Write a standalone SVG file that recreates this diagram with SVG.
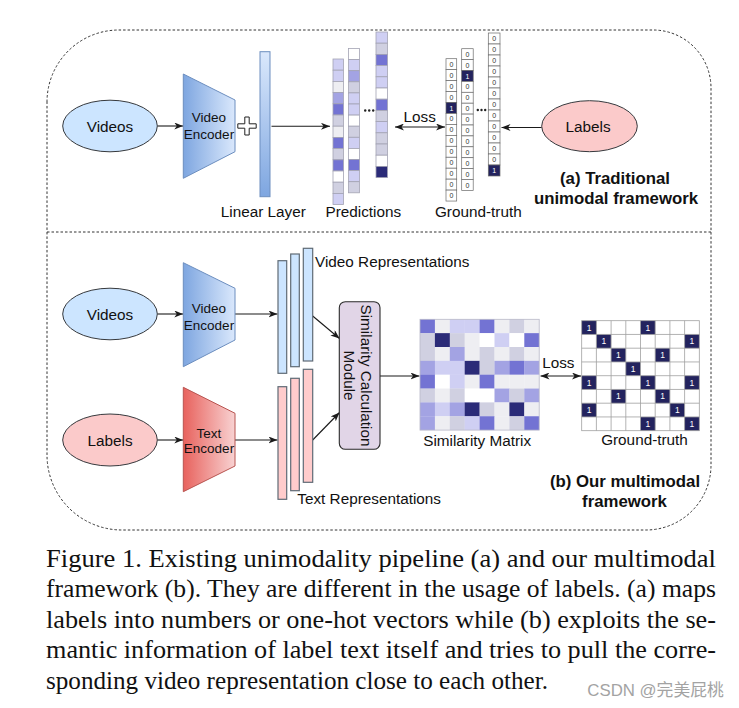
<svg xmlns="http://www.w3.org/2000/svg" width="739" height="708" viewBox="0 0 739 708">
<defs>
<linearGradient id="gBlueH" x1="0" y1="0" x2="1" y2="0"><stop offset="0" stop-color="#7ea6e0"/><stop offset="1" stop-color="#dae8fc"/></linearGradient>
<linearGradient id="gBlueV" x1="0" y1="0" x2="0" y2="1"><stop offset="0" stop-color="#dae8fc"/><stop offset="1" stop-color="#7ea6e0"/></linearGradient>
<linearGradient id="gRedH" x1="0" y1="0" x2="1" y2="0"><stop offset="0" stop-color="#e8625d"/><stop offset="1" stop-color="#f8d2d2"/></linearGradient>
<marker id="arr" markerUnits="userSpaceOnUse" markerWidth="9" markerHeight="7" refX="9" refY="3.5" orient="auto-start-reverse"><path d="M0,0 L9,3.5 L0,7 L2.5,3.5 z" fill="#1a1a1a"/></marker>
</defs>
<style>
text{font-family:"Liberation Sans",Arial,sans-serif;fill:#111}
.lbl{font-size:15.3px}
.enc{font-size:13.5px;text-anchor:middle}
.mid{text-anchor:middle}
.bold{font-weight:bold;font-size:16.8px;text-anchor:middle}
.frame{fill:none;stroke:#333;stroke-width:1;stroke-dasharray:2.5,2}
.conn line{stroke:#1a1a1a;stroke-width:1.1;marker-end:url(#arr)}
.conn line.dbl{marker-start:url(#arr)}
.vb{fill:#cce5ff;stroke:#5f6a75;stroke-width:1.2}
.tb{fill:#ffcccc;stroke:#5f6a75;stroke-width:1.2}
.pc rect{stroke:#a3a3b3;stroke-width:0.8}
.gt rect{fill:#fff;stroke:#6a6a6a;stroke-width:0.7}
.gt rect.one{fill:#23235e}
.gt text{font-size:7px;text-anchor:middle;fill:#333}
.gt text.w{fill:#fff}
.L{fill:#cfcff3}.G{fill:#d0d0e1}.W{fill:#ffffff}.W2{fill:#eeeef2}.M{fill:#a3a3e3}.D{fill:#7373d3}.N{fill:#2b2b78}
.cap{font-family:"Liberation Serif","Times New Roman",serif;font-size:24.5px;fill:#111}
.one2{fill:#23235e}
.g1{font-size:8.5px;fill:#fff;text-anchor:middle}
</style>

<g id="frame">
<path class="frame" d="M47,102 A72,72 0 0 1 119,30 L653,30 A58,58 0 0 1 711,88 L711,465 A65,65 0 0 1 646,530 L122,530 A75,75 0 0 1 47,455 Z"/>
<line class="frame" x1="47" y1="232" x2="711" y2="232"/>
</g>

<g id="connectors" class="conn">
<line x1="157.3" y1="126" x2="183.3" y2="126"/>
<line x1="271.5" y1="126.3" x2="330" y2="126.3"/>
<line class="dbl" x1="395" y1="127" x2="445" y2="127"/>
<line x1="541.7" y1="127.5" x2="501.5" y2="127.5"/>
<line x1="157.3" y1="314" x2="183.3" y2="314"/>
<line x1="235" y1="314" x2="277.5" y2="314"/>
<line x1="157.3" y1="440" x2="183.3" y2="440"/>
<line x1="235" y1="440" x2="277.5" y2="440"/>
<line x1="312.7" y1="316" x2="339.5" y2="338.5"/>
<line x1="312.7" y1="440" x2="339.5" y2="412.5"/>
<line x1="380" y1="376" x2="419.5" y2="376"/>
<line class="dbl" x1="540.5" y1="376" x2="581" y2="376"/>
</g>

<!-- (a) Traditional -->
<g id="videos-a">
<ellipse cx="110" cy="126" rx="47.3" ry="25.8" fill="#cce5ff" stroke="#36393d" stroke-width="1"/>
<text class="lbl mid" x="110" y="131.5">Videos</text>
</g>
<g id="video-encoder-a">
<path d="M183.3,74 L235,100 L235,151.7 L183.3,178.3 Z" fill="url(#gBlueH)" stroke="#6c8ebf" stroke-width="1"/>
<text class="enc" x="209" y="122">Video</text>
<text class="enc" x="209" y="139">Encoder</text>
</g>
<g id="plus">
<path d="M244.8,117 h4.4 v6.8 h7 v4.4 h-7 v6.8 h-4.4 v-6.8 h-7 v-4.4 h7 z" fill="#fff" stroke="#222" stroke-width="1"/>
</g>
<g id="linear-layer">
<rect x="260" y="51.7" width="10" height="145" fill="url(#gBlueV)" stroke="#6c8ebf" stroke-width="1"/>
<text class="lbl mid" x="263.3" y="217">Linear Layer</text>
</g>
<g id="predictions" class="pc">
<rect class="L" x="333" y="59" width="10.5" height="11.2"/>
<rect class="L" x="333" y="70.2" width="10.5" height="11.2"/>
<rect class="W2" x="333" y="81.4" width="10.5" height="11.2"/>
<rect class="M" x="333" y="92.6" width="10.5" height="11.2"/>
<rect class="D" x="333" y="103.8" width="10.5" height="11.2"/>
<rect class="G" x="333" y="115" width="10.5" height="11.2"/>
<rect class="W2" x="333" y="126.2" width="10.5" height="11.2"/>
<rect class="D" x="333" y="137.4" width="10.5" height="11.2"/>
<rect class="G" x="333" y="148.6" width="10.5" height="11.2"/>
<rect class="D" x="333" y="159.8" width="10.5" height="11.2"/>
<rect class="W" x="333" y="171" width="10.5" height="11.2"/>
<rect class="G" x="333" y="182.2" width="10.5" height="11.2"/>
<rect class="L" x="333" y="193.4" width="10.5" height="11.2"/>

<rect class="W" x="348.5" y="48.5" width="11" height="11.1"/>
<rect class="L" x="348.5" y="59.6" width="11" height="11.1"/>
<rect class="M" x="348.5" y="70.7" width="11" height="11.1"/>
<rect class="G" x="348.5" y="81.8" width="11" height="11.1"/>
<rect class="L" x="348.5" y="92.9" width="11" height="11.1"/>
<rect class="L" x="348.5" y="104" width="11" height="11.1"/>
<rect class="W" x="348.5" y="115.1" width="11" height="11.1"/>
<rect class="G" x="348.5" y="126.2" width="11" height="11.1"/>
<rect class="L" x="348.5" y="137.3" width="11" height="11.1"/>
<rect class="W" x="348.5" y="148.4" width="11" height="11.1"/>
<rect class="D" x="348.5" y="159.5" width="11" height="11.1"/>
<rect class="L" x="348.5" y="170.6" width="11" height="11.1"/>
<rect class="G" x="348.5" y="181.7" width="11" height="11.1"/>

<rect class="L" x="376" y="32" width="11.5" height="11.2"/>
<rect class="G" x="376" y="43.2" width="11.5" height="11.2"/>
<rect class="D" x="376" y="54.4" width="11.5" height="11.2"/>
<rect class="L" x="376" y="65.6" width="11.5" height="11.2"/>
<rect class="L" x="376" y="76.8" width="11.5" height="11.2"/>
<rect class="W" x="376" y="88" width="11.5" height="11.2"/>
<rect class="D" x="376" y="99.2" width="11.5" height="11.2"/>
<rect class="G" x="376" y="110.4" width="11.5" height="11.2"/>
<rect class="L" x="376" y="121.6" width="11.5" height="11.2"/>
<rect class="G" x="376" y="132.8" width="11.5" height="11.2"/>
<rect class="G" x="376" y="144" width="11.5" height="11.2"/>
<rect class="W" x="376" y="155.2" width="11.5" height="11.2"/>
<rect class="N" x="376" y="166.4" width="11.5" height="11.2"/>
<circle cx="365.2" cy="110.5" r="1.2" fill="#222"/><circle cx="369.2" cy="110.5" r="1.2" fill="#222"/><circle cx="373.2" cy="110.5" r="1.2" fill="#222"/>
<text class="lbl mid" x="363.3" y="216.5">Predictions</text>
</g>
<text class="lbl mid" x="419.7" y="121.5">Loss</text>
<g id="ground-truth-a">
<g class="gt">
<rect x="446" y="58.7" width="10.7" height="10.95"/><text x="451.35" y="66.7">0</text>
<rect x="446" y="69.65" width="10.7" height="10.95"/><text x="451.35" y="77.65">0</text>
<rect x="446" y="80.6" width="10.7" height="10.95"/><text x="451.35" y="88.6">0</text>
<rect x="446" y="91.55" width="10.7" height="10.95"/><text x="451.35" y="99.55">0</text>
<rect class="one" x="446" y="102.5" width="10.7" height="10.95"/><text class="w" x="451.35" y="110.5">1</text>
<rect x="446" y="113.45" width="10.7" height="10.95"/><text x="451.35" y="121.45">0</text>
<rect x="446" y="124.4" width="10.7" height="10.95"/><text x="451.35" y="132.4">0</text>
<rect x="446" y="135.35" width="10.7" height="10.95"/><text x="451.35" y="143.35">0</text>
<rect x="446" y="146.3" width="10.7" height="10.95"/><text x="451.35" y="154.3">0</text>
<rect x="446" y="157.25" width="10.7" height="10.95"/><text x="451.35" y="165.25">0</text>
<rect x="446" y="168.2" width="10.7" height="10.95"/><text x="451.35" y="176.2">0</text>
<rect x="446" y="179.15" width="10.7" height="10.95"/><text x="451.35" y="187.15">0</text>
<rect x="446" y="190.1" width="10.7" height="10.95"/><text x="451.35" y="198.1">0</text>

<rect x="461.7" y="48.7" width="11.5" height="10.9"/><text x="467.45" y="56.7">0</text>
<rect x="461.7" y="59.6" width="11.5" height="10.9"/><text x="467.45" y="67.6">0</text>
<rect class="one" x="461.7" y="70.5" width="11.5" height="10.9"/><text class="w" x="467.45" y="78.5">1</text>
<rect x="461.7" y="81.4" width="11.5" height="10.9"/><text x="467.45" y="89.4">0</text>
<rect x="461.7" y="92.3" width="11.5" height="10.9"/><text x="467.45" y="100.3">0</text>
<rect x="461.7" y="103.2" width="11.5" height="10.9"/><text x="467.45" y="111.2">0</text>
<rect x="461.7" y="114.1" width="11.5" height="10.9"/><text x="467.45" y="122.1">0</text>
<rect x="461.7" y="125" width="11.5" height="10.9"/><text x="467.45" y="133">0</text>
<rect x="461.7" y="135.9" width="11.5" height="10.9"/><text x="467.45" y="143.9">0</text>
<rect x="461.7" y="146.8" width="11.5" height="10.9"/><text x="467.45" y="154.8">0</text>
<rect x="461.7" y="157.7" width="11.5" height="10.9"/><text x="467.45" y="165.7">0</text>
<rect x="461.7" y="168.6" width="11.5" height="10.9"/><text x="467.45" y="176.6">0</text>
<rect x="461.7" y="179.5" width="11.5" height="10.9"/><text x="467.45" y="187.5">0</text>

<rect x="488.3" y="33" width="11.7" height="11"/><text x="494.15" y="41">0</text>
<rect x="488.3" y="44" width="11.7" height="11"/><text x="494.15" y="52">0</text>
<rect x="488.3" y="55" width="11.7" height="11"/><text x="494.15" y="63">0</text>
<rect x="488.3" y="66" width="11.7" height="11"/><text x="494.15" y="74">0</text>
<rect x="488.3" y="77" width="11.7" height="11"/><text x="494.15" y="85">0</text>
<rect x="488.3" y="88" width="11.7" height="11"/><text x="494.15" y="96">0</text>
<rect x="488.3" y="99" width="11.7" height="11"/><text x="494.15" y="107">0</text>
<rect x="488.3" y="110" width="11.7" height="11"/><text x="494.15" y="118">0</text>
<rect x="488.3" y="121" width="11.7" height="11"/><text x="494.15" y="129">0</text>
<rect x="488.3" y="132" width="11.7" height="11"/><text x="494.15" y="140">0</text>
<rect x="488.3" y="143" width="11.7" height="11"/><text x="494.15" y="151">0</text>
<rect x="488.3" y="154" width="11.7" height="11"/><text x="494.15" y="162">0</text>
<rect class="one" x="488.3" y="165" width="11.7" height="11"/><text class="w" x="494.15" y="173">1</text>
</g>
<circle cx="477.8" cy="110" r="1.2" fill="#222"/><circle cx="481.5" cy="110" r="1.2" fill="#222"/><circle cx="485.2" cy="110" r="1.2" fill="#222"/>
<text class="lbl mid" x="478.3" y="216.7">Ground-truth</text>
</g>
<g id="labels-a">
<ellipse cx="589.5" cy="126.2" rx="47.8" ry="25.5" fill="#fbcaca" stroke="#36393d" stroke-width="1"/>
<text class="lbl mid" x="588" y="131.7">Labels</text>
</g>
<g id="title-a">
<text class="bold" x="615" y="184">(a) Traditional</text>
<text class="bold" x="616" y="204">unimodal framework</text>
</g>

<!-- (b) Ours -->
<g id="videos-b">
<ellipse cx="110" cy="314" rx="47.3" ry="25.8" fill="#cce5ff" stroke="#36393d" stroke-width="1"/>
<text class="lbl mid" x="110" y="319.5">Videos</text>
</g>
<g id="video-encoder-b">
<path d="M183.3,262.7 L235,288.3 L235,340 L183.3,366.7 Z" fill="url(#gBlueH)" stroke="#6c8ebf" stroke-width="1"/>
<text class="enc" x="209" y="313">Video</text>
<text class="enc" x="209" y="330">Encoder</text>
</g>
<g id="labels-b">
<ellipse cx="110" cy="440" rx="47.3" ry="26" fill="#fbcaca" stroke="#36393d" stroke-width="1"/>
<text class="lbl mid" x="110" y="445.5">Labels</text>
</g>
<g id="text-encoder">
<path d="M183.3,387.3 L235,413.3 L235,466 L183.3,491.7 Z" fill="url(#gRedH)" stroke="#b85450" stroke-width="1"/>
<text class="enc" x="209" y="437.5">Text</text>
<text class="enc" x="209" y="453">Encoder</text>
</g>
<g id="video-representations">
<rect class="vb" x="278" y="260.7" width="8.7" height="112.6"/>
<rect class="vb" x="290.7" y="254" width="8.6" height="112.7"/>
<rect class="vb" x="303.3" y="248.3" width="9.4" height="112.7"/>
<text class="lbl" x="315" y="266.5">Video Representations</text>
</g>
<g id="text-representations">
<rect class="tb" x="278" y="386.7" width="8.7" height="112.6"/>
<rect class="tb" x="290.7" y="378.3" width="8.6" height="112.4"/>
<rect class="tb" x="303.3" y="369.3" width="9.4" height="113"/>
<text class="lbl" x="297.3" y="503.5">Text Representations</text>
</g>
<g id="similarity-module">
<rect x="339.3" y="301.7" width="40.7" height="147.6" rx="6" fill="#e1d5e7" stroke="#2a2a2a" stroke-width="1.1"/>
<text class="lbl mid" transform="translate(366.3,375.5) rotate(90)" x="0" y="5.4">Similarity Calculation</text>
<text class="lbl mid" transform="translate(349.5,375.5) rotate(90)" x="0" y="5.4">Module</text>
</g>
<g id="similarity-matrix">
<rect class="D" x="420" y="319.3" width="15.1" height="14.05"/><rect class="W2" x="434.9" y="319.3" width="15.1" height="14.05"/><rect class="L" x="449.8" y="319.3" width="15.1" height="14.05"/><rect class="L" x="464.7" y="319.3" width="15.1" height="14.05"/><rect class="D" x="479.6" y="319.3" width="15.1" height="14.05"/><rect class="W2" x="494.5" y="319.3" width="15.1" height="14.05"/><rect class="G" x="509.4" y="319.3" width="15.1" height="14.05"/><rect class="W2" x="524.3" y="319.3" width="14.9" height="14.05"/>
<rect class="G" x="420" y="333.15" width="15.1" height="14.05"/><rect class="N" x="434.9" y="333.15" width="15.1" height="14.05"/><rect class="G" x="449.8" y="333.15" width="15.1" height="14.05"/><rect class="W2" x="464.7" y="333.15" width="15.1" height="14.05"/><rect class="W" x="479.6" y="333.15" width="15.1" height="14.05"/><rect class="L" x="494.5" y="333.15" width="15.1" height="14.05"/><rect class="W" x="509.4" y="333.15" width="15.1" height="14.05"/><rect class="D" x="524.3" y="333.15" width="14.9" height="14.05"/>
<rect class="G" x="420" y="347" width="15.1" height="14.05"/><rect class="W2" x="434.9" y="347" width="15.1" height="14.05"/><rect class="M" x="449.8" y="347" width="15.1" height="14.05"/><rect class="W2" x="464.7" y="347" width="15.1" height="14.05"/><rect class="G" x="479.6" y="347" width="15.1" height="14.05"/><rect class="W2" x="494.5" y="347" width="15.1" height="14.05"/><rect class="G" x="509.4" y="347" width="15.1" height="14.05"/><rect class="W2" x="524.3" y="347" width="14.9" height="14.05"/>
<rect class="M" x="420" y="360.85" width="15.1" height="14.05"/><rect class="L" x="434.9" y="360.85" width="15.1" height="14.05"/><rect class="L" x="449.8" y="360.85" width="15.1" height="14.05"/><rect class="N" x="464.7" y="360.85" width="15.1" height="14.05"/><rect class="G" x="479.6" y="360.85" width="15.1" height="14.05"/><rect class="M" x="494.5" y="360.85" width="15.1" height="14.05"/><rect class="D" x="509.4" y="360.85" width="15.1" height="14.05"/><rect class="M" x="524.3" y="360.85" width="14.9" height="14.05"/>
<rect class="D" x="420" y="374.7" width="15.1" height="14.05"/><rect class="W" x="434.9" y="374.7" width="15.1" height="14.05"/><rect class="L" x="449.8" y="374.7" width="15.1" height="14.05"/><rect class="W2" x="464.7" y="374.7" width="15.1" height="14.05"/><rect class="D" x="479.6" y="374.7" width="15.1" height="14.05"/><rect class="W2" x="494.5" y="374.7" width="15.1" height="14.05"/><rect class="W2" x="509.4" y="374.7" width="15.1" height="14.05"/><rect class="W2" x="524.3" y="374.7" width="14.9" height="14.05"/>
<rect class="G" x="420" y="388.55" width="15.1" height="14.05"/><rect class="W2" x="434.9" y="388.55" width="15.1" height="14.05"/><rect class="G" x="449.8" y="388.55" width="15.1" height="14.05"/><rect class="W" x="464.7" y="388.55" width="15.1" height="14.05"/><rect class="W" x="479.6" y="388.55" width="15.1" height="14.05"/><rect class="M" x="494.5" y="388.55" width="15.1" height="14.05"/><rect class="G" x="509.4" y="388.55" width="15.1" height="14.05"/><rect class="M" x="524.3" y="388.55" width="14.9" height="14.05"/>
<rect class="M" x="420" y="402.4" width="15.1" height="14.05"/><rect class="L" x="434.9" y="402.4" width="15.1" height="14.05"/><rect class="M" x="449.8" y="402.4" width="15.1" height="14.05"/><rect class="N" x="464.7" y="402.4" width="15.1" height="14.05"/><rect class="G" x="479.6" y="402.4" width="15.1" height="14.05"/><rect class="W2" x="494.5" y="402.4" width="15.1" height="14.05"/><rect class="N" x="509.4" y="402.4" width="15.1" height="14.05"/><rect class="W2" x="524.3" y="402.4" width="14.9" height="14.05"/>
<rect class="M" x="420" y="416.25" width="15.1" height="13.85"/><rect class="W2" x="434.9" y="416.25" width="15.1" height="13.85"/><rect class="G" x="449.8" y="416.25" width="15.1" height="13.85"/><rect class="L" x="464.7" y="416.25" width="15.1" height="13.85"/><rect class="D" x="479.6" y="416.25" width="15.1" height="13.85"/><rect class="W2" x="494.5" y="416.25" width="15.1" height="13.85"/><rect class="G" x="509.4" y="416.25" width="15.1" height="13.85"/><rect class="D" x="524.3" y="416.25" width="14.9" height="13.85"/>
<rect x="420" y="319.3" width="119.2" height="110.8" fill="none" stroke="#b8b8c8" stroke-width="0.8"/>
<text class="lbl mid" x="477.2" y="445.7">Similarity Matrix</text>
</g>
<text class="lbl mid" x="558.3" y="368.3">Loss</text>
<g id="ground-truth-b">
<rect x="581.7" y="320.7" width="117.6" height="110" fill="#fff"/>
<rect class="one2" x="581.7" y="320.7" width="14.7" height="13.75"/><text class="g1" x="589.05" y="330.6">1</text>
<rect class="one2" x="640.5" y="320.7" width="14.7" height="13.75"/><text class="g1" x="647.85" y="330.6">1</text>
<rect class="one2" x="596.4" y="334.45" width="14.7" height="13.75"/><text class="g1" x="603.75" y="344.35">1</text>
<rect class="one2" x="684.6" y="334.45" width="14.7" height="13.75"/><text class="g1" x="691.95" y="344.35">1</text>
<rect class="one2" x="611.1" y="348.2" width="14.7" height="13.75"/><text class="g1" x="618.45" y="358.1">1</text>
<rect class="one2" x="655.2" y="348.2" width="14.7" height="13.75"/><text class="g1" x="662.55" y="358.1">1</text>
<rect class="one2" x="625.8" y="361.95" width="14.7" height="13.75"/><text class="g1" x="633.15" y="371.85">1</text>
<rect class="one2" x="581.7" y="375.7" width="14.7" height="13.75"/><text class="g1" x="589.05" y="385.6">1</text>
<rect class="one2" x="640.5" y="375.7" width="14.7" height="13.75"/><text class="g1" x="647.85" y="385.6">1</text>
<rect class="one2" x="684.6" y="375.7" width="14.7" height="13.75"/><text class="g1" x="691.95" y="385.6">1</text>
<rect class="one2" x="611.1" y="389.45" width="14.7" height="13.75"/><text class="g1" x="618.45" y="399.35">1</text>
<rect class="one2" x="655.2" y="389.45" width="14.7" height="13.75"/><text class="g1" x="662.55" y="399.35">1</text>
<rect class="one2" x="581.7" y="403.2" width="14.7" height="13.75"/><text class="g1" x="589.05" y="413.1">1</text>
<rect class="one2" x="669.9" y="403.2" width="14.7" height="13.75"/><text class="g1" x="677.25" y="413.1">1</text>
<rect class="one2" x="640.5" y="416.95" width="14.7" height="13.75"/><text class="g1" x="647.85" y="426.85">1</text>
<rect class="one2" x="684.6" y="416.95" width="14.7" height="13.75"/><text class="g1" x="691.95" y="426.85">1</text>
<path d="M596.4,320.7V430.7M611.1,320.7V430.7M625.8,320.7V430.7M640.5,320.7V430.7M655.2,320.7V430.7M669.9,320.7V430.7M684.6,320.7V430.7M581.7,334.45H699.3M581.7,348.2H699.3M581.7,361.95H699.3M581.7,375.7H699.3M581.7,389.45H699.3M581.7,403.2H699.3M581.7,416.95H699.3" fill="none" stroke="#a0a0a0" stroke-width="0.8"/>
<rect x="581.7" y="320.7" width="117.6" height="110" fill="none" stroke="#a0a0a0" stroke-width="0.8"/>
<text class="lbl mid" x="644.5" y="445.3">Ground-truth</text>
</g>
<g id="title-b">
<text class="bold" x="625" y="486.7">(b) Our multimodal</text>
<text class="bold" x="624.5" y="507.3">framework</text>
</g>

<g id="caption">
<text class="cap" x="46" y="566.5" textLength="670" lengthAdjust="spacingAndGlyphs">Figure 1. Existing unimodality pipeline (a) and our multimodal</text>
<text class="cap" x="46" y="597" textLength="670" lengthAdjust="spacingAndGlyphs">framework (b). They are different in the usage of labels. (a) maps</text>
<text class="cap" x="46" y="627.5" textLength="670" lengthAdjust="spacingAndGlyphs">labels into numbers or one-hot vectors while (b) exploits the se-</text>
<text class="cap" x="46" y="658" textLength="670" lengthAdjust="spacingAndGlyphs">mantic information of label text itself and tries to pull the corre-</text>
<text class="cap" x="46" y="688.8" textLength="502" lengthAdjust="spacingAndGlyphs">sponding video representation close to each other.</text>
</g>
<text x="587.3" y="696" textLength="136.5" lengthAdjust="spacingAndGlyphs" style="font-family:'Liberation Sans','Noto Sans CJK SC',sans-serif;font-size:16.5px;fill:#a3a3a3">CSDN @完美屁桃</text>
</svg>
